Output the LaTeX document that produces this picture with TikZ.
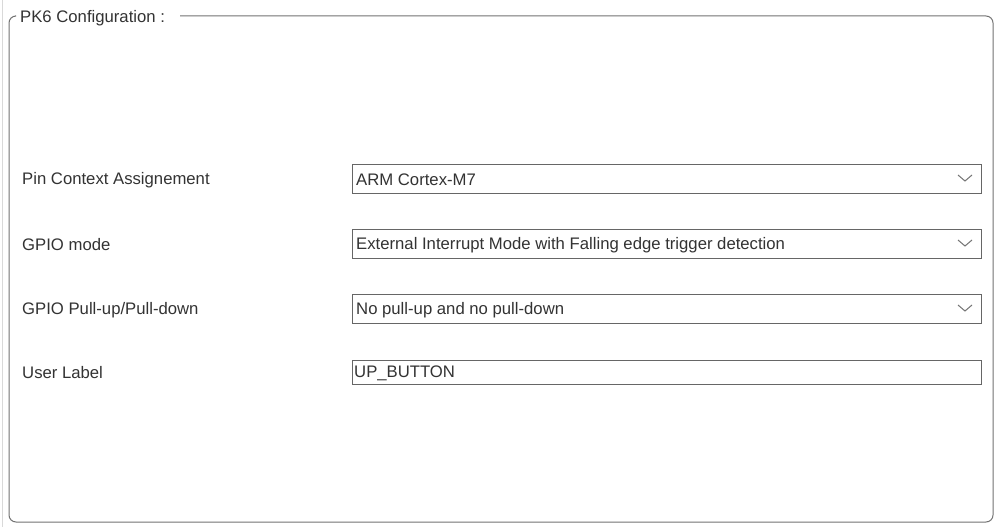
\documentclass[tikz,border=0pt]{standalone}
\usepackage{fontspec}
\setmainfont{Liberation Sans}
\begin{document}
\begin{tikzpicture}[x=1pt,y=-1pt,
  lbl/.style={anchor=west,inner sep=0pt,text=black!80,font=\fontsize{16.7}{20}\selectfont},
  fld/.style={draw=black!60,line width=1pt,fill=white},
  chev/.style={draw=black!55,line width=1pt}]
\useasboundingbox (0,0) rectangle (998,527);
\fill[white] (0,0) rectangle (998,527);
\draw[black!15,line width=1pt] (2,0) -- (2,527);
\draw[black!55,line width=1pt,rounded corners=7pt] (180,16) -- (993,16) -- (993,522) -- (9,522) -- (9,16) -- (15,16);
\node[lbl] (title) at (20,18) {PK6 Configuration :};
\node[lbl] (l1) at (22,180) {Pin Context Assignement};
\node[lbl] (l2) at (22,245) {GPIO mode};
\node[lbl] (l3) at (22,310) {GPIO Pull-up/Pull-down};
\node[lbl] (l4) at (22,373) {User Label};
\foreach \y/\t in {164/ARM Cortex-M7,229/External Interrupt Mode with Falling edge trigger detection,294/No pull-up and no pull-down}{
  \draw[fld] (352,\y) rectangle (981,\y+29);
  \node[lbl] at (356,\y+16) {\t};
  \draw[chev] (958,\y+11) -- (965,\y+17) -- (972,\y+11);
}
\draw[fld] (352,360) rectangle (981,384);
\node[lbl] (v4) at (354,373) {UP\_BUTTON};
\end{tikzpicture}
\end{document}
